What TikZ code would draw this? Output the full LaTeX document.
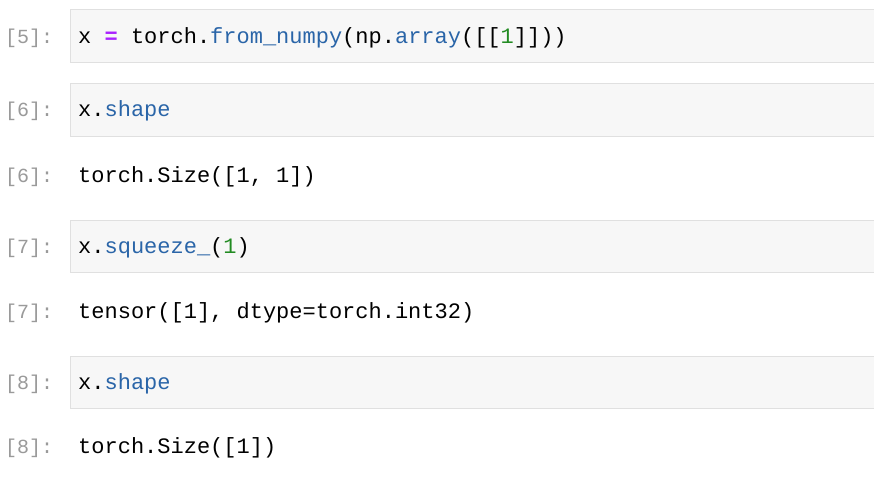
\documentclass[tikz,border=0pt]{standalone}
\usepackage{fontspec}
\setmonofont{Liberation Mono}
\definecolor{pr}{HTML}{9A9A9A}
\definecolor{bx}{HTML}{F7F7F7}
\definecolor{bd}{HTML}{E0E0E0}
\definecolor{fn}{HTML}{2A65A8}
\definecolor{nm}{HTML}{228B22}
\definecolor{op}{HTML}{AA22FF}
\begin{document}
\begin{tikzpicture}[x=1pt,y=-1pt,
  cell/.style={draw=bd,fill=bx,line width=1pt},
  prompt/.style={anchor=base west,inner sep=0,font=\fontsize{20}{20}\ttfamily,text=pr},
  code/.style={anchor=base west,inner sep=0,font=\fontsize{22}{22}\ttfamily,text=black}]
\useasboundingbox[fill=white] (0,0) rectangle (874,484);
\newcommand\fc[1]{\textcolor{fn}{#1}}
\newcommand\nc[1]{\textcolor{nm}{#1}}
% cell 5
\draw[cell] (70,10) rectangle (880,63);
\node[prompt] (p5) at (5,44) {[5]:};
\node[code] (c5) at (78,44) {x \textcolor{op}{\textbf{=}} torch.\fc{from\_numpy}(np.\fc{array}([[\nc{1}]]))};
% cell 6
\draw[cell] (70,84) rectangle (880,136);
\node[prompt] (p6) at (5,117) {[6]:};
\node[code] (c6) at (78,117) {x.\fc{shape}};
\node[prompt] (o6) at (5,182) {[6]:};
\node[code] (r6) at (78,182) {torch.Size([1, 1])};
% cell 7
\draw[cell] (70,220) rectangle (880,272);
\node[prompt] (p7) at (5,253) {[7]:};
\node[code] (c7) at (78,253) {x.\fc{squeeze\_}(\nc{1})};
\node[prompt] (o7) at (5,318) {[7]:};
\node[code] (r7) at (78,318) {tensor([1], dtype=torch.int32)};
% cell 8
\draw[cell] (70,356) rectangle (880,408);
\node[prompt] (p8) at (5,389) {[8]:};
\node[code] (c8) at (78,389) {x.\fc{shape}};
\node[prompt] (o8) at (5,453) {[8]:};
\node[code] (r8) at (78,453) {torch.Size([1])};
\end{tikzpicture}
\end{document}
